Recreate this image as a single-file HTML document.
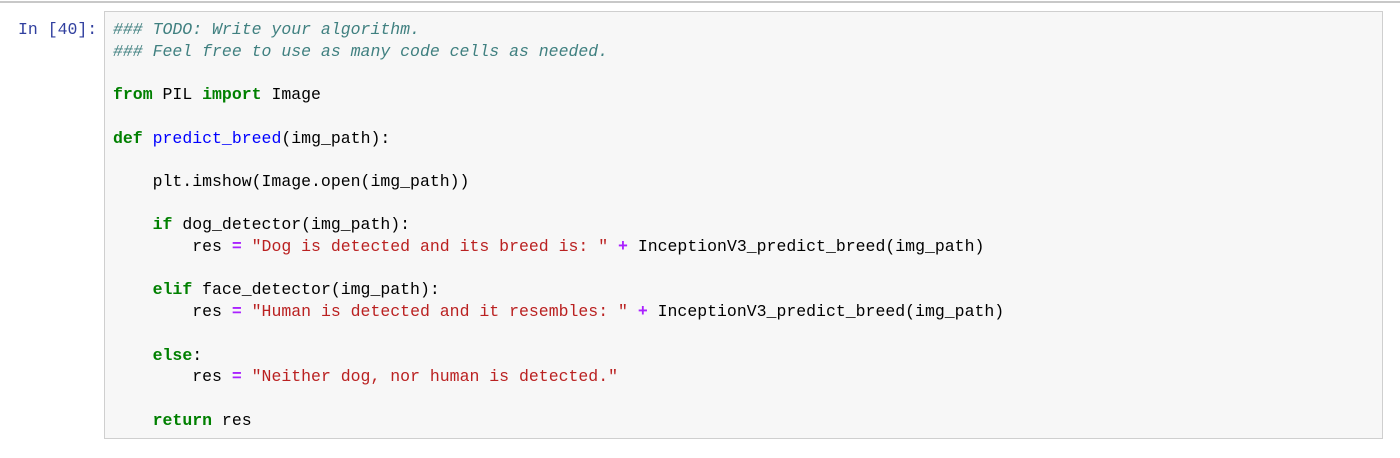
<!DOCTYPE html>
<html><head><meta charset="utf-8"><style>
html,body{margin:0;padding:0;background:#fff;width:1400px;height:458px;overflow:hidden;position:relative}
.top{position:absolute;left:0;top:1px;width:1400px;height:2px;background:#c8c8c8}
.prompt{position:absolute;left:18px;top:19px;font:16.5px/21.7px "Liberation Mono",monospace;color:#303f9f}
.box{position:absolute;left:104px;top:11px;width:1277px;height:426px;background:#f7f7f7;border:1px solid #cfcfcf}
pre{position:absolute;left:113px;top:19px;margin:0;font:16.5px/21.7px "Liberation Mono",monospace;color:#000}
.c{color:#408080;font-style:italic}
.k{color:#008000;font-weight:bold}
.f{color:#0000ff}
.s{color:#ba2121}
.o{color:#aa22ff;font-weight:bold}
</style></head><body>
<div class="top"></div>
<div class="prompt">In [40]:</div>
<div class="box"></div>
<pre><span class="c">### TODO: Write your algorithm.</span>
<span class="c">### Feel free to use as many code cells as needed.</span>

<span class="k">from</span> PIL <span class="k">import</span> Image

<span class="k">def</span> <span class="f">predict_breed</span>(img_path):

    plt.imshow(Image.open(img_path))

    <span class="k">if</span> dog_detector(img_path):
        res <span class="o">=</span> <span class="s">"Dog is detected and its breed is: "</span> <span class="o">+</span> InceptionV3_predict_breed(img_path)

    <span class="k">elif</span> face_detector(img_path):
        res <span class="o">=</span> <span class="s">"Human is detected and it resembles: "</span> <span class="o">+</span> InceptionV3_predict_breed(img_path)

    <span class="k">else</span>:
        res <span class="o">=</span> <span class="s">"Neither dog, nor human is detected."</span>

    <span class="k">return</span> res</pre>
</body></html>
